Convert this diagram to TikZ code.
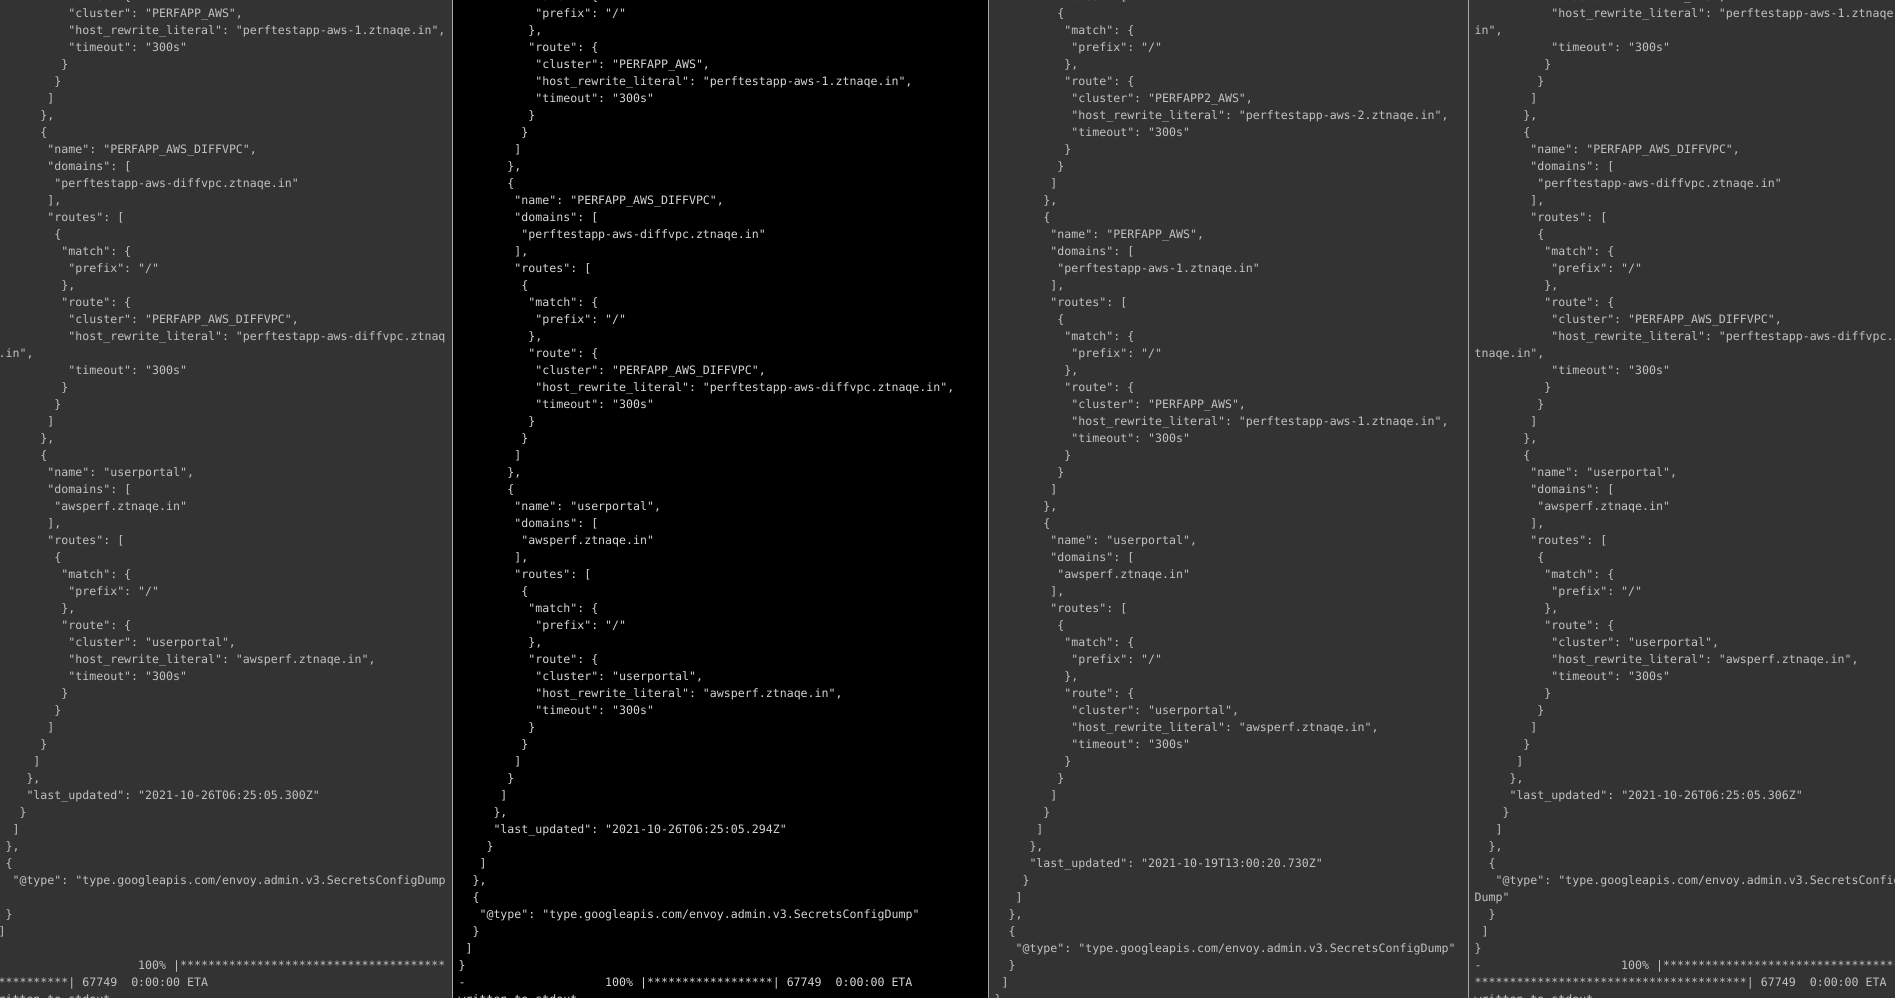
\documentclass[tikz,border=0pt]{standalone}
\usepackage{fontspec}
\setmonofont{DejaVu Sans Mono}
\definecolor{panelgrey}{HTML}{333333}
\definecolor{panelblack}{HTML}{000000}
\definecolor{divider}{HTML}{A8A8A8}
\definecolor{textgrey}{HTML}{C2C2C2}
\definecolor{textwhite}{HTML}{D6D6D6}

\newlength{\charw}
\setlength{\charw}{6.98pt}
\newcommand{\I}[1]{\hspace*{#1\charw}}

\newcommand{\routehead}{%
  \I{8}"routes": [\\
  \I{9}\{\\
  \I{10}"match": \{\\
  \I{11}"prefix": "/"\\
  \I{10}\},\\
  \I{10}"route": \{\\
}
\newcommand{\routetail}{%
  \I{11}"timeout": "300s"\\
  \I{10}\}\\
  \I{9}\}\\
  \I{8}]\\
  \I{7}\},\\
  \I{7}\{\\
}
\newcommand{\vhosthead}[2]{%
  \I{8}"name": "#1",\\
  \I{8}"domains": [\\
  \I{9}"#2"\\
  \I{8}],\\
}
\newcommand{\userportal}{%
  \vhosthead{userportal}{awsperf.ztnaqe.in}
  \routehead
  \I{11}"cluster": "userportal",\\
  \I{11}"host\_rewrite\_literal": "awsperf.ztnaqe.in",\\
  \I{11}"timeout": "300s"\\
  \I{10}\}\\
  \I{9}\}\\
  \I{8}]\\
  \I{7}\}\\
  \I{6}]\\
  \I{5}\},\\
}

\begin{document}
\begin{tikzpicture}[%
  x=1pt, y=-1pt,
  termtext/.style={anchor=north west, inner sep=0pt, outer sep=0pt, align=left,
    font=\ttfamily\fontsize{11.6}{17}\selectfont},
  greytext/.style={termtext, text=textgrey},
  blacktext/.style={termtext, text=textwhite},
]

  \clip (0,0) rectangle (1895,998);

  % Panels
  \fill[panelgrey] (0,0) rectangle (1895,998);
  \fill[panelblack] (452,0) rectangle (988,998);
  \draw[divider, line width=1.2pt] (452.3,0) -- (452.3,998);
  \draw[divider, line width=1.2pt] (988.4,0) -- (988.4,998);
  \draw[divider, line width=1.2pt] (1468.2,0) -- (1468.2,998);

  % Left terminal
  \node (termA) [greytext] at (-8.4,-11.9) {\strut\I{10}"route": \{\\
    \I{11}"cluster": "PERFAPP\_AWS",\\
    \I{11}"host\_rewrite\_literal": "perftestapp-aws-1.ztnaqe.in",\\
    \routetail
    \vhosthead{PERFAPP\_AWS\_DIFFVPC}{perftestapp-aws-diffvpc.ztnaqe.in}
    \routehead
    \I{11}"cluster": "PERFAPP\_AWS\_DIFFVPC",\\
    \I{11}"host\_rewrite\_literal": "perftestapp-aws-diffvpc.ztnaq\\
    \I{1}.in",\\
    \routetail
    \userportal
    \I{5}"last\_updated": "2021-10-26T06:25:05.300Z"\\
    \I{4}\}\\
    \I{3}]\\
    \I{2}\},\\
    \I{2}\{\\
    \I{3}"@type": "type.googleapis.com/envoy.admin.v3.SecretsConfigDump\\
    \I{0}\\
    \I{2}\}\\
    \I{1}]\\
    \I{0}\\
    \I{21}100\% |**************************************\\
    \I{0}***********| 67749~~0:00:00 ETA\\
    \I{1}ritten to stdout};

  % Black terminal
  \node (termB) [blacktext] at (458.6,-11.9) {\strut\I{10}"match": \{\\
    \I{11}"prefix": "/"\\
    \I{10}\},\\
    \I{10}"route": \{\\
    \I{11}"cluster": "PERFAPP\_AWS",\\
    \I{11}"host\_rewrite\_literal": "perftestapp-aws-1.ztnaqe.in",\\
    \routetail
    \vhosthead{PERFAPP\_AWS\_DIFFVPC}{perftestapp-aws-diffvpc.ztnaqe.in}
    \routehead
    \I{11}"cluster": "PERFAPP\_AWS\_DIFFVPC",\\
    \I{11}"host\_rewrite\_literal": "perftestapp-aws-diffvpc.ztnaqe.in",\\
    \routetail
    \userportal
    \I{5}"last\_updated": "2021-10-26T06:25:05.294Z"\\
    \I{4}\}\\
    \I{3}]\\
    \I{2}\},\\
    \I{2}\{\\
    \I{3}"@type": "type.googleapis.com/envoy.admin.v3.SecretsConfigDump"\\
    \I{2}\}\\
    \I{1}]\\
    \I{0}\}\\
    \I{0}-\I{20}100\% |******************| 67749~~0:00:00 ETA\\
    \I{0}written to stdout};

  % Third terminal
  \node (termC) [greytext] at (994.6,-11.9) {\strut\I{8}"routes": [\\
    \I{9}\{\\
    \I{10}"match": \{\\
    \I{11}"prefix": "/"\\
    \I{10}\},\\
    \I{10}"route": \{\\
    \I{11}"cluster": "PERFAPP2\_AWS",\\
    \I{11}"host\_rewrite\_literal": "perftestapp-aws-2.ztnaqe.in",\\
    \routetail
    \vhosthead{PERFAPP\_AWS}{perftestapp-aws-1.ztnaqe.in}
    \routehead
    \I{11}"cluster": "PERFAPP\_AWS",\\
    \I{11}"host\_rewrite\_literal": "perftestapp-aws-1.ztnaqe.in",\\
    \routetail
    \userportal
    \I{5}"last\_updated": "2021-10-19T13:00:20.730Z"\\
    \I{4}\}\\
    \I{3}]\\
    \I{2}\},\\
    \I{2}\{\\
    \I{3}"@type": "type.googleapis.com/envoy.admin.v3.SecretsConfigDump"\\
    \I{2}\}\\
    \I{1}]\\
    \I{0}\}};

  % Right terminal
  \node (termD) [greytext] at (1474.6,-11.9) {\strut\I{11}"cluster": "PERFAPP\_AWS",\\
    \I{11}"host\_rewrite\_literal": "perftestapp-aws-1.ztnaqe.\\
    \I{0}in",\\
    \routetail
    \vhosthead{PERFAPP\_AWS\_DIFFVPC}{perftestapp-aws-diffvpc.ztnaqe.in}
    \routehead
    \I{11}"cluster": "PERFAPP\_AWS\_DIFFVPC",\\
    \I{11}"host\_rewrite\_literal": "perftestapp-aws-diffvpc.z\\
    \I{0}tnaqe.in",\\
    \routetail
    \userportal
    \I{5}"last\_updated": "2021-10-26T06:25:05.306Z"\\
    \I{4}\}\\
    \I{3}]\\
    \I{2}\},\\
    \I{2}\{\\
    \I{3}"@type": "type.googleapis.com/envoy.admin.v3.SecretsConfig\\
    \I{0}Dump"\\
    \I{2}\}\\
    \I{1}]\\
    \I{0}\}\\
    \I{0}-\I{20}100\% |**********************************\\
    \I{0}***************************************| 67749~~0:00:00 ETA\\
    \I{0}written to stdout};

\end{tikzpicture}
\end{document}
